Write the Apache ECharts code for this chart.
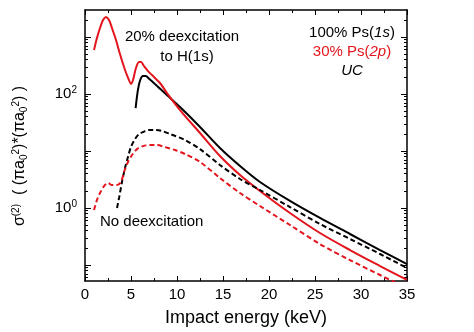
<!DOCTYPE html>
<html>
<head>
<meta charset="utf-8">
<script src="https://cdn.jsdelivr.net/npm/echarts@6/dist/echarts.min.js"></script>
<style>
  html, body { margin: 0; padding: 0; background: #fff; }
  #chart { width: 474px; height: 332px; }
</style>
</head>
<body>
<div id="chart"></div>
<script>
// Impact energy (keV) and cross sections, one pair of arrays per curve
const blackSolidE = [5.5, 5.75, 6.0, 6.3, 6.6, 7.0, 7.6, 8.2, 8.9, 10.33, 12.5, 14.67, 16.85, 19.02, 22.28, 25.54, 28.8, 32.07, 35.0];
const blackSolidV = [56.8, 117, 176, 207, 207, 183, 150, 122, 96, 59, 26.4, 11.3, 5.46, 2.86, 1.33, 0.668, 0.350, 0.183, 0.104];

const redSolidE = [0.98, 1.3, 1.63, 1.96, 2.28, 2.61, 2.93, 3.37, 3.8, 4.35, 4.78, 5.0, 5.22, 5.54, 5.87, 6.09, 6.41, 6.85, 7.28, 8.15, 8.91, 10.33, 12.5, 14.67, 16.85, 19.02, 22.28, 25.54, 28.8, 32.07, 35.0];
const redSolidV = [592, 960, 1439, 1986, 2245, 1986, 1439, 885, 503, 264, 176, 150, 176, 286, 364, 364, 310, 253, 215, 156, 104, 52.4, 20.7, 8.17, 3.79, 1.99, 0.817, 0.364, 0.183, 0.096, 0.0546];

const blackDashE = [3.48, 3.7, 4.02, 4.35, 4.67, 5.0, 5.43, 5.87, 6.3, 6.96, 7.61, 8.37, 9.24, 10.87, 12.5, 14.67, 16.85, 19.02, 22.28, 25.54, 28.8, 32.07, 35.0];
const blackDashV = [1.0, 1.5, 2.86, 5.04, 7.85, 11.8, 16.2, 19.9, 21.5, 23.4, 23.4, 22.4, 19.9, 15.6, 10.8, 5.68, 3.23, 2.07, 1.04, 0.524, 0.286, 0.156, 0.0885];

const redDashE = [0.98, 1.3, 1.63, 2.07, 2.5, 2.93, 3.48, 3.91, 4.24, 4.67, 5.11, 5.65, 6.3, 7.07, 7.83, 8.7, 9.78, 10.87, 12.5, 14.67, 16.85, 19.02, 22.28, 25.54, 28.8, 32.07, 35.0];
const redDashV = [0.923, 1.38, 1.83, 2.43, 2.75, 2.53, 2.53, 2.86, 4.29, 6.42, 8.51, 10.8, 12.2, 12.7, 12.7, 11.7, 10.4, 8.86, 6.42, 3.36, 1.83, 1.084, 0.503, 0.233, 0.122, 0.0668, 0.0394];

// Axis ranges and tick values
const X_MIN = 0, X_MAX = 35, X_STEP = 5;
const Y_MIN = 0.0524, Y_MAX = 2979;
const yMajorTicks = [0.1, 1, 10, 100, 1000];
const yLabelTicks = [1, 100];
const yMinorTicks = [];
for (let p = -2; p <= 3; p++) {
  for (let k = 2; k <= 9; k++) {
    const v = k * Math.pow(10, p);
    if (v > Y_MIN && v < Y_MAX) yMinorTicks.push(+v.toPrecision(3));
  }
}

const RED = '#e3141c';
const BLACK = '#000000';
const FONT = '"Liberation Sans", Arial, sans-serif';

const pairs = (xs, ys) => xs.map((x, i) => [x, ys[i]]);

const chart = echarts.init(document.getElementById('chart'), null, { renderer: 'canvas' });

const axisLine = { show: true, lineStyle: { color: BLACK, width: 1.5 } };

function yAxisDef(position, ticks, len, withLine, labels) {
  return {
    type: 'log', logBase: 10, min: Y_MIN, max: Y_MAX, position: position,
    axisLine: withLine ? axisLine : { show: false },
    splitLine: { show: false },
    axisTick: { show: true, inside: true, length: len, customValues: ticks, lineStyle: { color: BLACK, width: 1 } },
    axisLabel: labels ? {
      show: true, customValues: yLabelTicks, margin: 8,
      formatter: v => '{b|10}{sup|' + Math.round(Math.log10(v)) + '}',
      rich: {
        b: { fontSize: 15, fontFamily: FONT, color: BLACK },
        sup: { fontSize: 10, fontFamily: FONT, color: BLACK, verticalAlign: 'top', padding: [0, 0, 8, 0] }
      }
    } : { show: false }
  };
}

function xAxisDef(position, labels) {
  return {
    type: 'value', min: X_MIN, max: X_MAX, interval: X_STEP, position: position,
    axisLine: axisLine,
    splitLine: { show: false },
    axisTick: { show: true, inside: true, length: 5, lineStyle: { color: BLACK, width: 1 } },
    minorTick: { show: true, splitNumber: 2, length: 3, lineStyle: { color: BLACK, width: 1 } },
    axisLabel: labels ? { show: true, fontSize: 15, fontFamily: FONT, color: BLACK, margin: 6 } : { show: false },
    name: labels ? 'Impact energy (keV)' : '',
    nameLocation: 'middle', nameGap: 28,
    nameTextStyle: { fontSize: 18, fontFamily: FONT, color: BLACK }
  };
}

function line(name, xs, ys, color, dashed) {
  return {
    name: name, type: 'line', xAxisIndex: 0, yAxisIndex: 0,
    data: pairs(xs, ys), smooth: 0.3, symbol: 'none', clip: true,
    lineStyle: { color: color, width: 2, type: dashed ? [5, 3] : 'solid' }
  };
}

const txt = (x, y, text, align, extra) => ({
  type: 'text', x: x, y: y, silent: true,
  style: Object.assign({ text: text, align: align, verticalAlign: 'middle', font: '15px ' + FONT, fill: BLACK }, extra || {})
});

chart.setOption({
  animation: false,
  backgroundColor: '#fff',
  grid: { left: 85, right: 67, top: 10, bottom: 51, containLabel: false },
  xAxis: [xAxisDef('bottom', true), xAxisDef('top', false)],
  yAxis: [
    yAxisDef('left', yMajorTicks, 6, true, true),
    yAxisDef('left', yMinorTicks, 3, false, false),
    yAxisDef('right', yMajorTicks, 6, true, false),
    yAxisDef('right', yMinorTicks, 3, false, false)
  ],
  series: [
    line('20% deexcitation, 100% Ps(1s)', blackSolidE, blackSolidV, BLACK, false),
    line('20% deexcitation, 30% Ps(2p)', redSolidE, redSolidV, RED, false),
    line('No deexcitation, 100% Ps(1s)', blackDashE, blackDashV, BLACK, true),
    line('No deexcitation, 30% Ps(2p)', redDashE, redDashV, RED, true)
  ],
  graphic: [
    txt(182, 37, '20% deexcitation', 'center'),
    txt(187, 57, 'to H(1s)', 'center'),
    txt(352, 33, '100% Ps({i|1s})', 'center', { rich: { i: { font: 'italic 15px ' + FONT, fill: BLACK } } }),
    txt(352, 52, '30% Ps({i|2p})', 'center', { fill: RED, rich: { i: { font: 'italic 15px ' + FONT, fill: RED } } }),
    txt(352, 71, 'UC', 'center', { font: 'italic 15px ' + FONT }),
    txt(100, 222, 'No deexcitation', 'left'),
    {
      type: 'text', x: 20, y: 156, rotation: Math.PI / 2, silent: true,
      style: {
        text: '{m|σ}{sup|(2)}{m|  ( (πa}{sub|0}{sup|2}{m|)*(πa}{sub|0}{sup|2}{m|) )}',
        align: 'center', verticalAlign: 'middle',
        rich: {
          m: { font: '16px ' + FONT, fill: BLACK },
          sup: { font: '10px ' + FONT, fill: BLACK, verticalAlign: 'top', padding: [0, 0, 8, 0] },
          sub: { font: '10px ' + FONT, fill: BLACK, verticalAlign: 'bottom', padding: [6, 0, 0, 0] }
        }
      }
    }
  ]
});
</script>
</body>
</html>
